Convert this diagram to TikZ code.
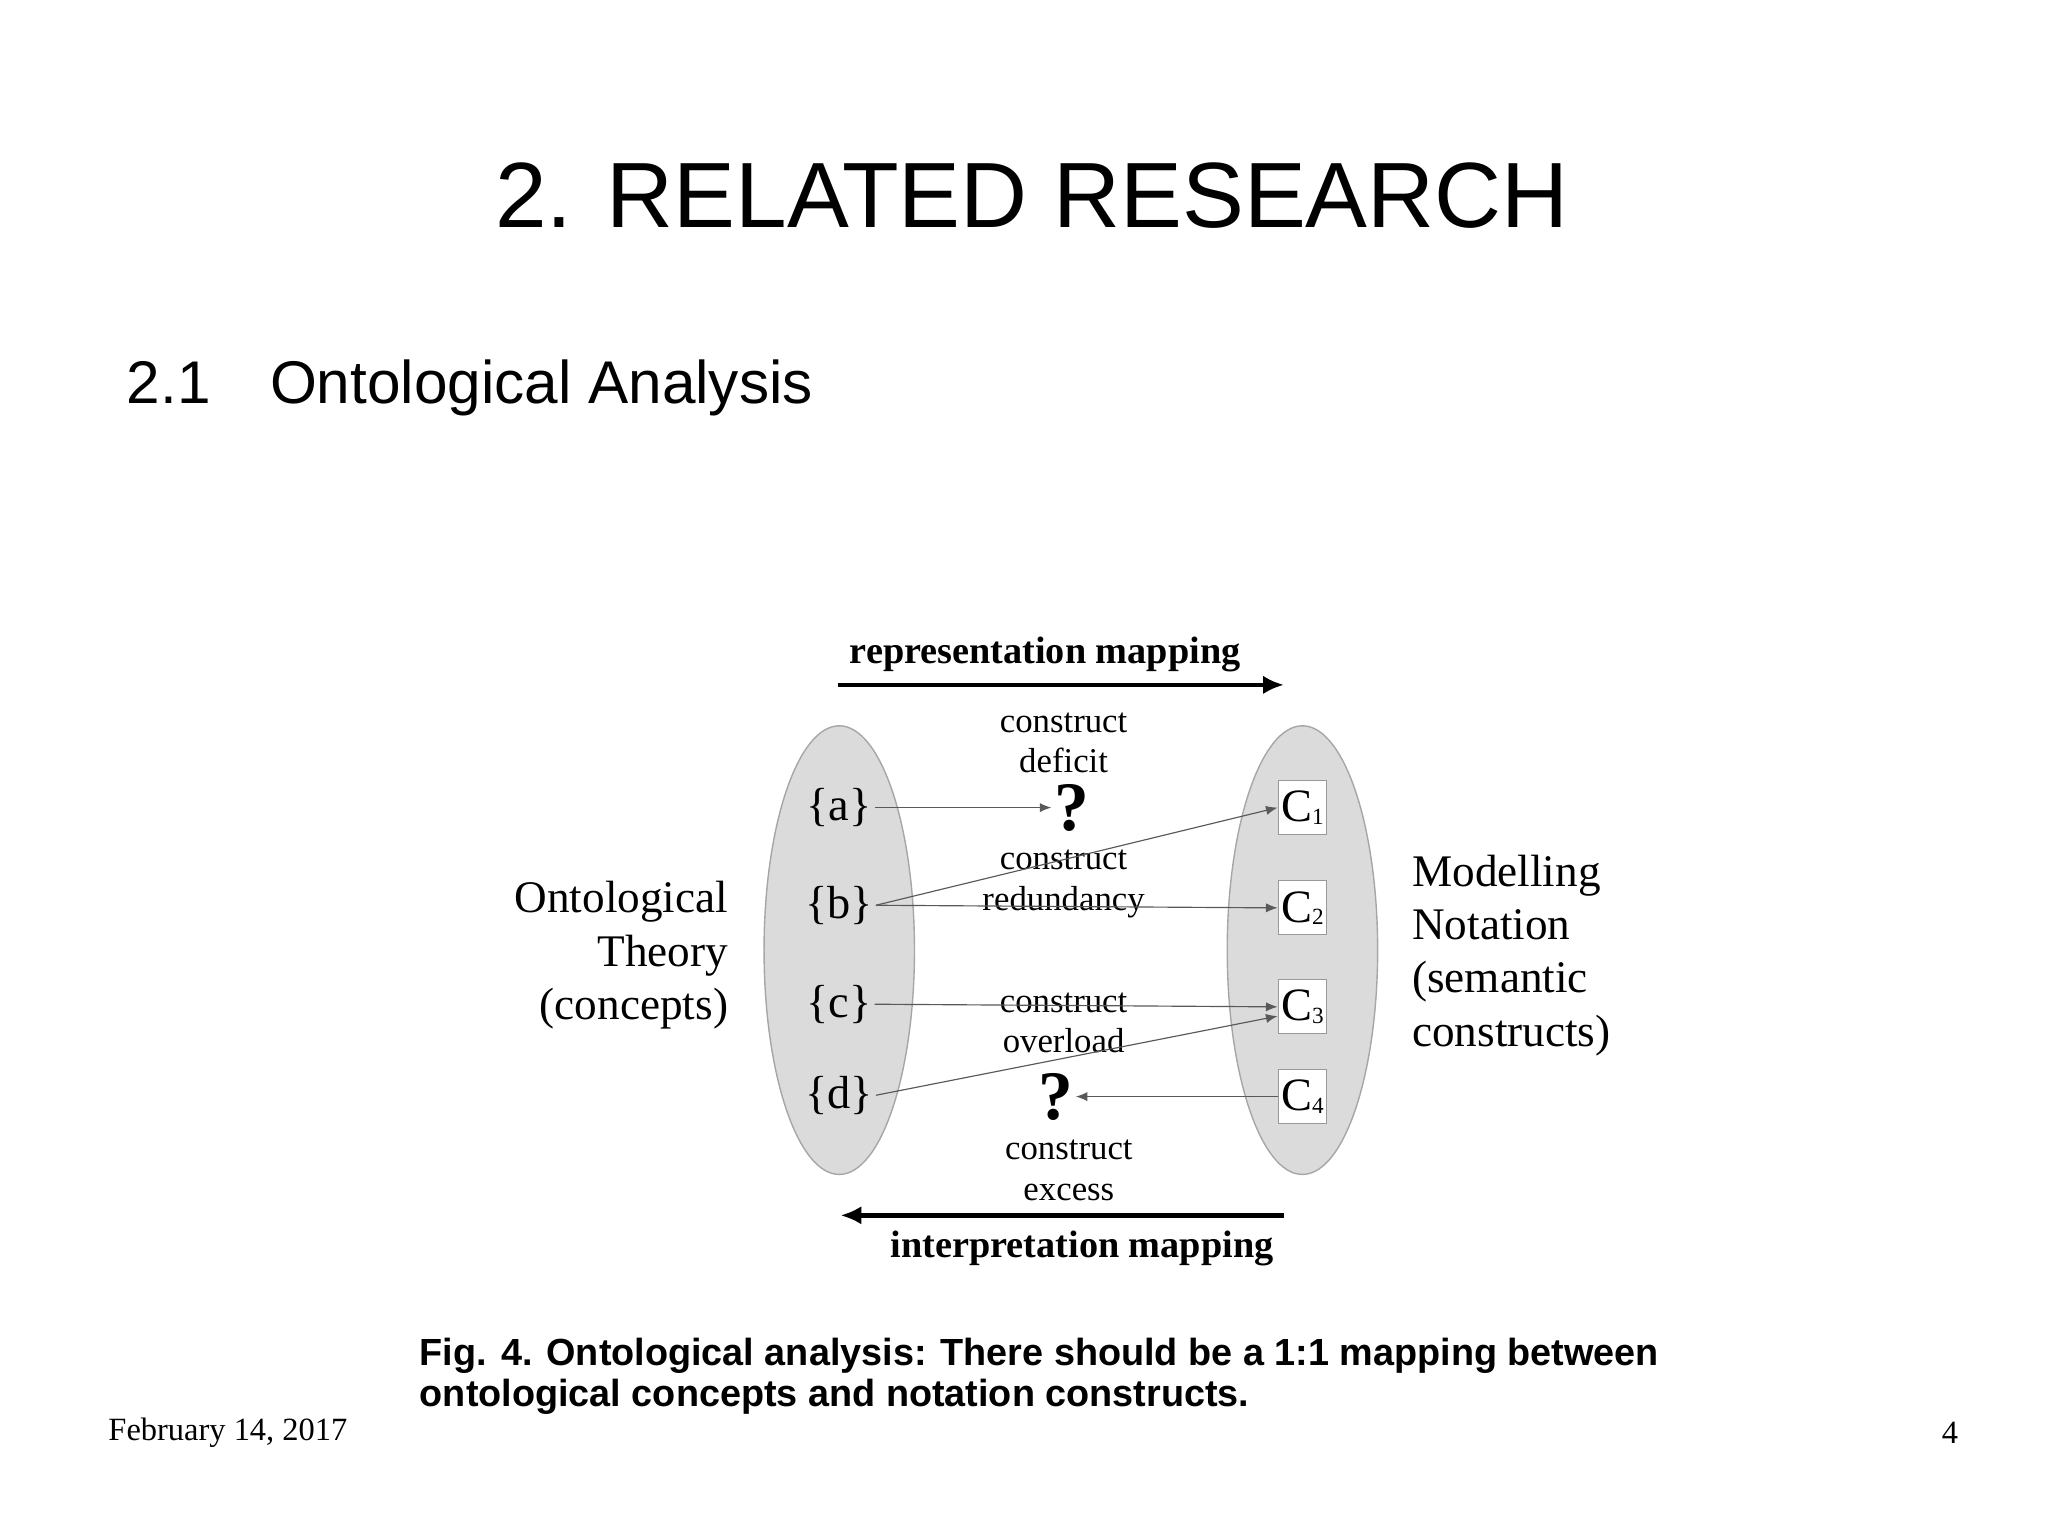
\documentclass[tikz,border=0pt]{standalone}
\usepackage{fontspec}
\setmainfont{Liberation Sans}
\newfontfamily\dfont{Liberation Serif}
\newfontfamily\tfont{Liberation Serif}
\begin{document}
\begin{tikzpicture}[x=0.02cm,y=-0.02cm,
  ell/.style={draw=gray!70,fill=gray!28,line width=0.6pt},
  cbox/.style={draw=gray!80,fill=white,minimum width=0.74cm,minimum height=0.82cm,inner sep=0pt,font=\dfont\fontsize{20}{20}\selectfont},
  cpt/.style={inner sep=1pt,font=\dfont\fontsize{20}{20}\selectfont},
  lab/.style={align=center,font=\dfont\fontsize{15}{17.5}\selectfont,inner sep=0pt},
  conn/.style={gray!70!black,line width=0.5pt,-{Latex[length=5pt,width=4pt]}},
  big/.style={line width=2pt,-{Latex[length=9pt,width=8pt]}},
  qm/.style={font=\dfont\bfseries\fontsize{30}{30}\selectfont,inner sep=1pt}]
\usetikzlibrary{arrows.meta}
\useasboundingbox (0,0) rectangle (1552,1164);
\node at (782,148) {\fontsize{40}{46}\selectfont 2. RELATED RESEARCH};
\node[anchor=west] at (90,294) {\fontsize{26}{30}\selectfont 2.1\hspace{0.9cm}Ontological Analysis};
\draw[ell] (636,720) ellipse [x radius=57,y radius=170];
\draw[ell] (987,720) ellipse [x radius=57,y radius=170];
\node[cpt] (a) at (636,612) {\{a\}};
\node[cpt] (b) at (636,686) {\{b\}};
\node[cpt] (c) at (636,761) {\{c\}};
\node[cpt] (d) at (636,830) {\{d\}};
\node[cbox] (c1) at (987,612) {C\raisebox{-1pt}{\fontsize{10}{10}\selectfont 1}};
\node[cbox] (c2) at (987,688) {C\raisebox{-1pt}{\fontsize{10}{10}\selectfont 2}};
\node[cbox] (c3) at (987,763) {C\raisebox{-1pt}{\fontsize{10}{10}\selectfont 3}};
\node[cbox] (c4) at (987,831) {C\raisebox{-1pt}{\fontsize{10}{10}\selectfont 4}};
\node[qm] (q1) at (812,612) {?};
\node[qm] (q2) at (800,831) {?};
\node[lab] at (806,563) {construct\\deficit};
\node[lab] at (806,670) {construct\\redundancy};
\node[lab] at (806,775) {construct\\overload};
\node[lab] at (810,887) {construct\\excess};
\draw[conn] (a) -- (q1);
\draw[conn] (b.east) -- (c1.west);
\draw[conn] (b.east) -- (c2.west);
\draw[conn] (c.east) -- (c3.west);
\draw[conn] (d.east) -- ([yshift=-4pt]c3.west);
\draw[conn] (c4.west) -- (q2);
\coordinate (r1) at (635,519); \coordinate (r2) at (973,519);
\coordinate (i1) at (973,921); \coordinate (i2) at (637,921);
\draw[big] (r1) -- (r2);
\draw[big] (i1) -- (i2);
\node[font=\dfont\bfseries\fontsize{16.5}{20}\selectfont] at (792,496) {representation mapping};
\node[font=\dfont\bfseries\fontsize{16.5}{20}\selectfont] at (820,946) {interpretation mapping};
\node[anchor=east,align=right,font=\dfont\fontsize{19.5}{23}\selectfont] at (558,724) {Ontological\\Theory\\(concepts)};
\node[anchor=west,align=left,font=\dfont\fontsize{19.5}{23}\selectfont] at (1064,724) {Modelling\\Notation\\(semantic\\constructs)};
\node[anchor=north west,align=left,font=\bfseries\fontsize{16.3}{17.6}\selectfont] at (312,1008) {Fig. 4. Ontological analysis: There should be a 1:1 mapping between\\ontological concepts and notation constructs.};
\node[anchor=west,font=\tfont\fontsize{14}{18}\selectfont] at (76,1086) {February 14, 2017};
\node[anchor=east,font=\tfont\fontsize{14}{18}\selectfont] at (1490,1086) {4};
\end{tikzpicture}
\end{document}
